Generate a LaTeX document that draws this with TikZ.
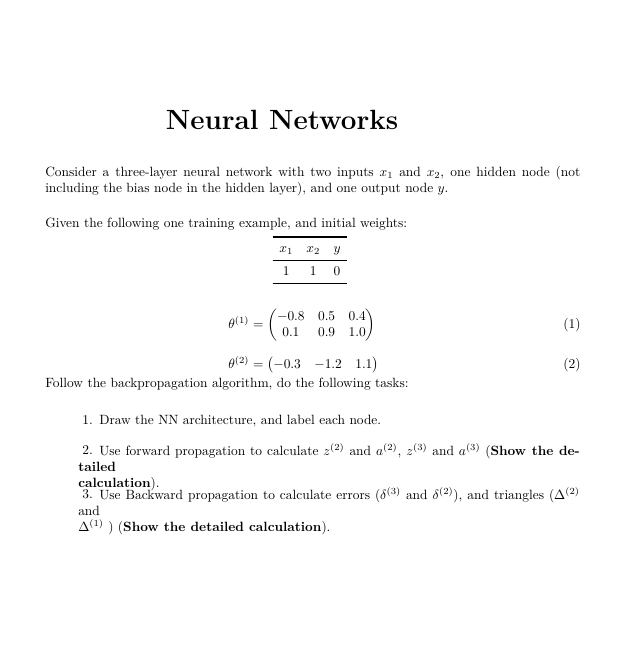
\documentclass[tikz,border=0pt]{standalone}
\usepackage{amsmath,booktabs}
\begin{document}
\begin{tikzpicture}[x=0.7457pt,y=-0.7457pt,
  txt/.style={anchor=base west,inner sep=0pt}]
\useasboundingbox (0,0) rectangle (635,645);
\node[inner sep=0pt] (title) at (282,120) {\huge\bfseries Neural Networks};
\node[anchor=north west,inner sep=0pt,text width=399pt,align=justify] (p1) at (45,166) {Consider a three-layer neural network with two inputs $x_1$ and $x_2$, one hidden node (not including the bias node in the hidden layer), and one output node $y$.};
\node[txt] (p2) at (45,227) {Given the following one training example, and initial weights:};
\node[inner sep=0pt] (tab) at (310,260) {\setlength{\tabcolsep}{5pt}\begin{tabular}{ccc}\toprule $x_1$ & $x_2$ & $y$\\\midrule 1 & 1 & 0\\\bottomrule\end{tabular}};
\node[anchor=west,inner sep=0pt] (e1) at (228,325) {$\theta^{(1)}=\begin{pmatrix}-0.8 & 0.5 & 0.4\\ 0.1 & 0.9 & 1.0\end{pmatrix}$};
\node[inner sep=0pt] (n1) at (572,325) {(1)};
\node[anchor=west,inner sep=0pt] (e2) at (228,365) {$\theta^{(2)}=\begin{pmatrix}-0.3 & -1.2 & 1.1\end{pmatrix}$};
\node[inner sep=0pt] (n2) at (572,365) {(2)};
\node[txt] (p3) at (45,387) {Follow the backpropagation algorithm, do the following tasks:};
\node[txt,anchor=base east] (i1) at (93,424) {1.};
\node[txt] (t1) at (99,424) {Draw the NN architecture, and label each node.};
\node[txt,anchor=base east] (i2) at (93,454) {2.};
\node[anchor=north west,inner sep=0pt,text width=374pt,align=justify] (t2) at (78,443) {\hspace*{15.7pt}Use forward propagation to calculate $z^{(2)}$ and $a^{(2)}$, $z^{(3)}$ and $a^{(3)}$ (\textbf{Show the detailed}\linebreak\textbf{calculation}).};
\node[txt,anchor=base east] (i3) at (93,498) {3.};
\node[anchor=north west,inner sep=0pt,text width=374pt,align=justify] (t3) at (78,487) {\hspace*{15.7pt}Use Backward propagation to calculate errors ($\delta^{(3)}$ and $\delta^{(2)}$), and triangles ($\Delta^{(2)}$ and\linebreak $\Delta^{(1)}$ ) (\textbf{Show the detailed calculation}).};
\end{tikzpicture}
\end{document}
